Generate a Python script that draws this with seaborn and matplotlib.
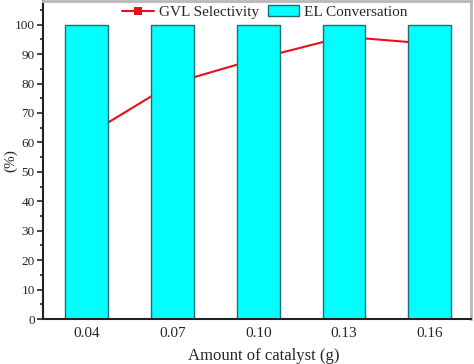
import pandas as pd
import matplotlib
matplotlib.use("Agg")
import matplotlib.pyplot as plt
import seaborn as sns
from matplotlib.lines import Line2D
from matplotlib.patches import Patch
from matplotlib.ticker import MultipleLocator

# data
catalyst = ["0.04", "0.07", "0.10", "0.13", "0.16"]
el_conversion = [100, 100, 100, 100, 100]
gvl_selectivity = [62.3, 80.0, 88.5, 95.9, 93.5]

sns.set_style("white")
plt.rcParams["font.family"] = ["Liberation Serif", "DejaVu Serif"]
plt.rcParams["font.size"] = 11

df = pd.DataFrame({"Catalyst": catalyst, "EL": el_conversion, "GVL": gvl_selectivity})
df["pos"] = range(len(df))

fig = plt.figure(figsize=(4.74, 3.64), dpi=100)
ax = fig.add_axes([0.0907, 0.1236, 0.9030, 0.8734])

# line sits behind the bars
sns.lineplot(data=df, x="pos", y="GVL", ax=ax, color="#e8101a", linewidth=1.5,
             marker="s", markersize=6, markeredgewidth=0, zorder=1)
sns.barplot(data=df, x="Catalyst", y="EL", ax=ax, color="#00ffff", saturation=1,
            width=0.5, edgecolor="#1c6e72", linewidth=1.0, zorder=2)

ax.set_xlim(-0.508, 4.48)
ax.set_ylim(0, 108)
ax.yaxis.set_major_locator(MultipleLocator(10))
ax.yaxis.set_minor_locator(MultipleLocator(5))
ax.set_yticks(range(0, 101, 10))
ax.tick_params(axis="y", which="major", direction="out", length=4, width=1.2,
               left=True, labelsize=9.5, pad=2)
ax.tick_params(axis="y", which="minor", direction="out", length=2.5, width=1.2, left=True)
ax.tick_params(axis="x", length=0, labelsize=11, pad=6)

for s in ["left", "bottom"]:
    ax.spines[s].set_color("#222222")
    ax.spines[s].set_linewidth(1.5)
for s in ["top", "right"]:
    ax.spines[s].set_color("#b8b8b8")
    ax.spines[s].set_linewidth(2)

ax.set_xlabel("Amount of catalyst (g)", fontsize=12)
ax.set_ylabel("(%)", fontsize=11)
ax.xaxis.set_label_coords(0.516, -0.092)
ax.yaxis.set_label_coords(-0.061, 0.497)

handles = [
    Line2D([], [], color="#e8101a", linewidth=1.5, marker="s", markersize=6, markeredgewidth=0),
    Patch(facecolor="#00ffff", edgecolor="#1c6e72", linewidth=1.0),
]
ax.legend(handles, ["GVL Selectivity", "EL Conversation"], ncol=2, frameon=False,
          loc="center", bbox_to_anchor=(0.519, 0.965), fontsize=11,
          handlelength=2.05, columnspacing=0.6, handletextpad=0.33, borderpad=0)

fig.savefig("out.png", dpi=100)
